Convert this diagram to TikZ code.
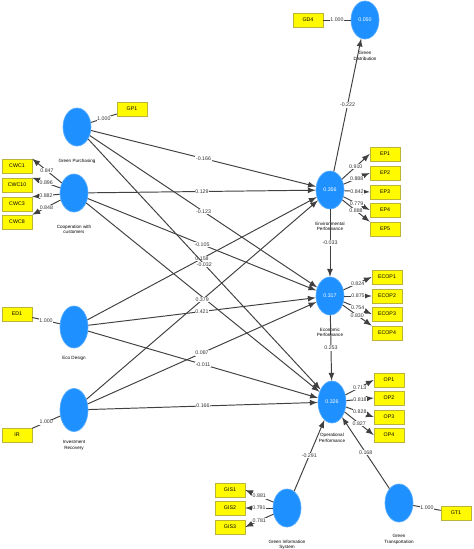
\documentclass[tikz,border=0pt]{standalone}
\usepackage{fontspec}
\setmainfont{Liberation Sans}
\usetikzlibrary{shapes.geometric,positioning}
\definecolor{lvblue}{RGB}{30,144,255}
\definecolor{mvyellow}{RGB}{255,250,0}

\begin{document}
\begin{tikzpicture}[
    x=0.02cm, y=-0.02cm,
    >=latex,
    font=\fontsize{3}{3.6}\selectfont,
    % Stile
    latent/.style={ellipse, fill=lvblue, draw=lvblue!75!white, text=white, inner sep=0pt, minimum width=0.56cm, minimum height=0.76cm},
    indic/.style={rectangle, fill=mvyellow, draw=yellow!70!black, line width=0.3pt, minimum width=0.6cm, minimum height=0.28cm, inner sep=0pt},
    caption/.style={align=center, font=\fontsize{2.6}{3.4}\selectfont},
    arrow/.style={->, line width=0.55pt, draw=black!75},
    link/.style={line width=0.55pt, draw=black!75},
    coef/.style={midway, fill=white, inner sep=0.4pt, text=black!80}
]

\useasboundingbox (0,0) rectangle (474,549);

% --- latente Variablen ---
\node[latent] (gd) at (365,20) {0.050};
\node[latent] (gp) at (77,127) {};
\node[latent] (cwc) at (74,193) {};
\node[latent, minimum height=0.84cm] (ed) at (74,327) {};
\node[latent, minimum height=0.86cm] (ir) at (74,410) {};
\node[latent] (envp) at (330,190) {0.356};
\node[latent] (ecop) at (330,296) {0.317};
\node[latent, minimum height=0.84cm] (opp) at (332,402) {0.326};
\node[latent] (gis) at (287,508) {};
\node[latent] (gt) at (399,503) {};

% Beschriftungen
\node[caption, below=3.5pt of gd] (gd-lbl) {Green\\Distribution};
\node[caption, below=4pt of gp] (gp-lbl) {Green Purchasing};
\node[caption, below=3.5pt of cwc] (cwc-lbl) {Cooperation with\\customers};
\node[caption, below=1pt of ed] (ed-lbl) {Eco Design};
\node[caption, below=1.5pt of ir] (ir-lbl) {Investment\\Recovery};
\node[caption, below=3.5pt of envp] (envp-lbl) {Environmental\\Performance};
\node[caption, below=3.5pt of ecop] (ecop-lbl) {Economic\\Performance};
\node[caption, below=2pt of opp] (opp-lbl) {Operational\\Performance};
\node[caption, below=3.5pt of gis] (gis-lbl) {Green Information\\System};
\node[caption, below=3.5pt of gt] (gt-lbl) {Green\\Transportation};

% --- Indikatoren ---
\node[indic] (gd4) at (308,20) {GD4};
\node[indic] (gp1) at (132,109) {GP1};
\node[indic] (cwc1) at (17,166) {CWC1};
\node[indic] (cwc10) at (17,185) {CWC10};
\node[indic] (cwc3) at (17,204) {CWC3};
\node[indic] (cwc8) at (17,222) {CWC8};
\node[indic] (ed1) at (17,314) {ED1};
\node[indic] (ir1) at (17,435) {IR};
\node[indic] (ep1) at (385,154) {EP1};
\node[indic] (ep2) at (385,173) {EP2};
\node[indic] (ep3) at (385,192) {EP3};
\node[indic] (ep4) at (385,210) {EP4};
\node[indic] (ep5) at (385,229) {EP5};
\node[indic] (ecop1) at (387,277) {ECOP1};
\node[indic] (ecop2) at (387,296) {ECOP2};
\node[indic] (ecop3) at (387,314) {ECOP3};
\node[indic] (ecop4) at (387,333) {ECOP4};
\node[indic] (op1) at (389,380) {OP1};
\node[indic] (op2) at (389,398) {OP2};
\node[indic] (op3) at (389,417) {OP3};
\node[indic] (op4) at (389,435) {OP4};
\node[indic] (gis1) at (230,490) {GIS1};
\node[indic] (gis2) at (230,508) {GIS2};
\node[indic] (gis3) at (230,527) {GIS3};
\node[indic] (gt1) at (456,513) {GT1};

% Ladungen
\draw[link] (gd4) -- (gd) node[coef] {1.000};
\draw[link] (gp) -- (gp1) node[coef] {1.000};
\draw[arrow] (cwc) -- (cwc1.north east) node[coef] {0.847};
\draw[arrow] (cwc) -- (cwc10.north east) node[coef] {0.896};
\draw[arrow] (cwc) -- (cwc3.north east) node[coef] {0.882};
\draw[arrow] (cwc) -- (cwc8.north east) node[coef] {0.848};
\draw[link] (ed1) -- (ed) node[coef] {1.000};
\draw[link] (ir1) -- (ir) node[coef] {1.000};
\draw[arrow] (envp) -- (ep1.west) node[coef] {0.910};
\draw[arrow] (envp) -- (ep2.west) node[coef] {0.888};
\draw[arrow] (envp) -- (ep3.west) node[coef] {0.842};
\draw[arrow] (envp) -- (ep4.west) node[coef] {0.779};
\draw[arrow] (envp) -- (ep5.north west) node[coef] {0.888};
\draw[arrow] (ecop) -- (ecop1.west) node[coef] {0.824};
\draw[arrow] (ecop) -- (ecop2.west) node[coef] {0.875};
\draw[arrow] (ecop) -- (ecop3.west) node[coef] {0.754};
\draw[arrow] (ecop) -- (ecop4.north west) node[coef] {0.830};
\draw[arrow] (opp) -- (op1.west) node[coef] {0.713};
\draw[arrow] (opp) -- (op2.west) node[coef] {0.818};
\draw[arrow] (opp) -- (op3.west) node[coef] {0.828};
\draw[arrow] (opp) -- (op4.west) node[coef] {0.827};
\draw[arrow] (gis) -- (gis1.east) node[coef] {0.881};
\draw[arrow] (gis) -- (gis2.east) node[coef] {0.791};
\draw[arrow] (gis) -- (gis3.east) node[coef] {0.781};
\draw[link] (gt) -- (gt1) node[coef] {1.000};

% --- Pfade ---
\draw[arrow] (gp) -- (envp) node[coef] {-0.166};
\draw[arrow] (cwc) -- (envp) node[coef] {0.129};
\draw[arrow] (gp) -- (ecop) node[coef] {-0.123};
\draw[arrow] (cwc) -- (ecop) node[coef] {-0.105};
\draw[arrow] (ed) -- (envp) node[coef] {0.158};
\draw[arrow] (gp) -- (opp) node[coef] {-0.032};
\draw[arrow] (cwc) -- (opp);
\draw[arrow] (ir) -- (envp) node[coef] {0.379};
\draw[arrow] (ed) -- (ecop) node[coef] {0.421};
\draw[arrow] (ir) -- (ecop) node[coef] {0.087};
\draw[arrow] (ed) -- (opp) node[coef] {-0.011};
\draw[arrow] (ir) -- (opp) node[coef] {0.166};
\draw[arrow] (envp) -- (gd) node[coef] {-0.222};
\draw[arrow] (envp) -- (ecop) node[coef] {-0.033};
\draw[arrow] (ecop) -- (opp) node[coef] {0.253};
\draw[arrow] (gis) -- (opp) node[coef] {-0.291};
\draw[arrow] (gt) -- (opp) node[coef] {0.168};

\end{tikzpicture}
\end{document}
